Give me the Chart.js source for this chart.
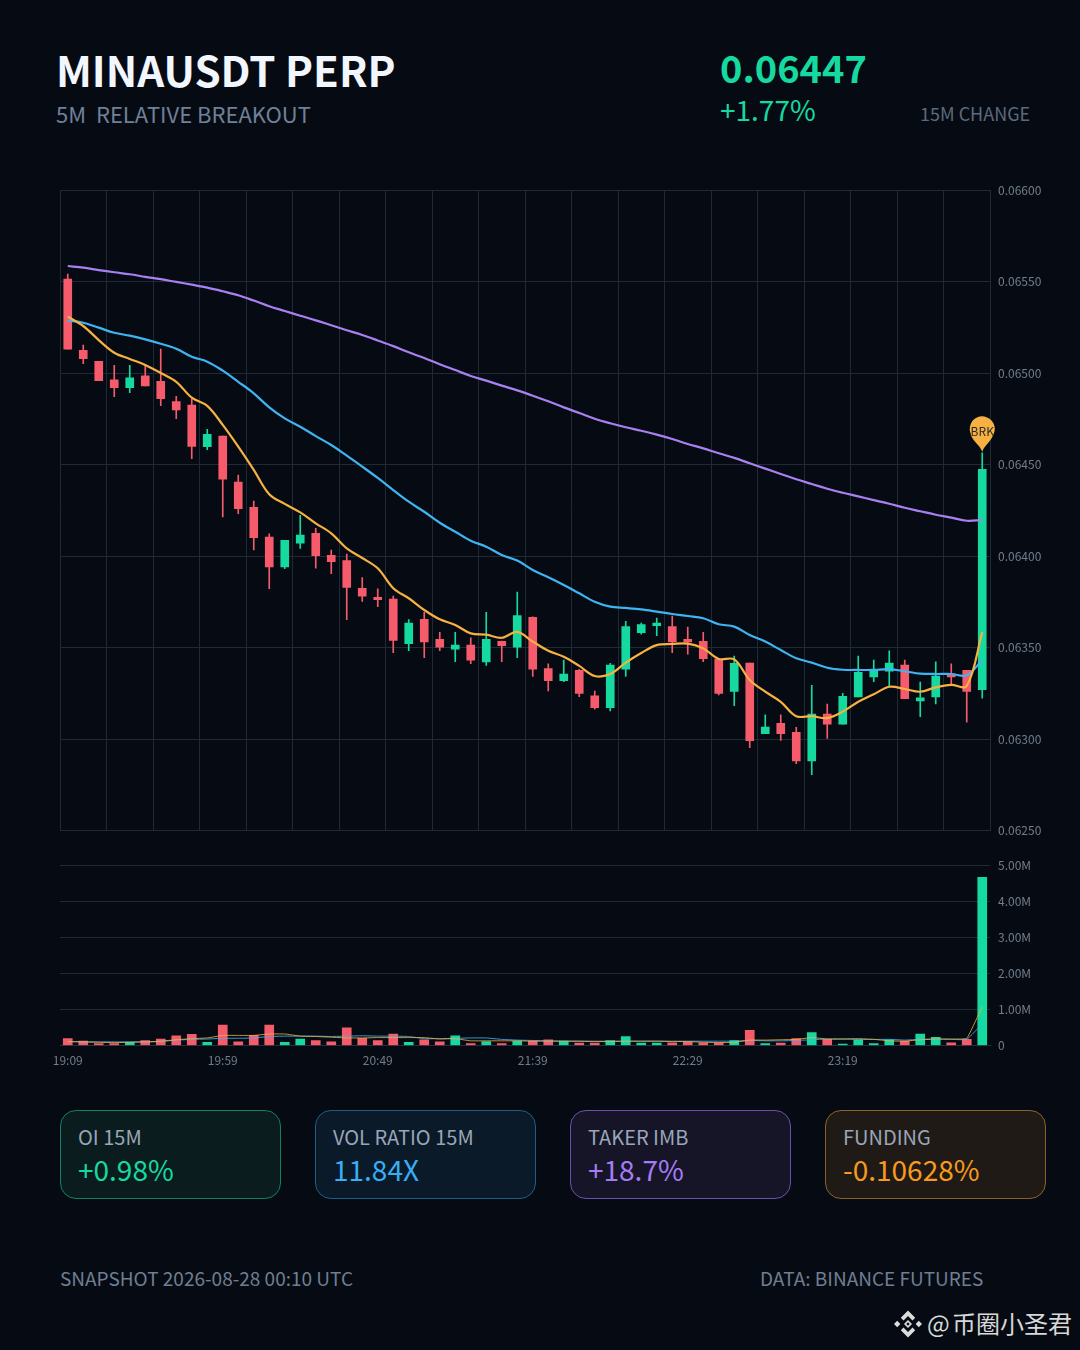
<!DOCTYPE html>
<html>
<head>
<meta charset="utf-8">
<script src="https://cdn.jsdelivr.net/npm/chart.js@4"></script>
<style>
*{box-sizing:border-box;margin:0;padding:0}
html,body{width:1080px;height:1350px;background:#060b13;overflow:hidden;font-family:"Noto Sans CJK SC","Noto Sans",sans-serif}
.t{position:absolute;white-space:pre;line-height:1}
canvas{position:absolute;left:0}
.card{position:absolute;top:1110px;width:221px;height:89px;border-radius:16px;border:1px solid}
.card .l{position:absolute;left:17px;top:16px;font-size:20px;line-height:1;color:#9aa5b8;white-space:pre}
.card .v{position:absolute;left:17px;top:44px;font-size:28px;line-height:1;white-space:pre}
</style>
</head>
<body>
<div class="t" style="left:56px;top:48px;font-size:42px;font-weight:700;color:#f2f6fd">MINAUSDT PERP</div>
<div class="t" style="left:56px;top:102px;font-size:22px;color:#6f8098">5M  RELATIVE BREAKOUT</div>
<div class="t" style="left:720px;top:48px;font-size:38px;font-weight:700;color:#16d9a0">0.06447</div>
<div class="t" style="left:720px;top:95px;font-size:28px;color:#16d9a0">+1.77%</div>
<div class="t" style="left:920px;top:104px;font-size:18px;color:#5c6a7c">15M CHANGE</div>

<canvas id="price" style="top:150px;width:1080px;height:700px"></canvas>
<canvas id="vol" style="top:850px;width:1080px;height:230px"></canvas>

<div class="card" style="left:60px;background:#0a1c1d;border-color:#11805f"><div class="l">OI 15M</div><div class="v" style="color:#16d9a0">+0.98%</div></div>
<div class="card" style="left:315px;background:#0a1a28;border-color:#1c5f82"><div class="l">VOL RATIO 15M</div><div class="v" style="color:#38aef5">11.84X</div></div>
<div class="card" style="left:570px;background:#161528;border-color:#6a4fae"><div class="l">TAKER IMB</div><div class="v" style="color:#a57cf5">+18.7%</div></div>
<div class="card" style="left:825px;background:#1f1a16;border-color:#8a6426"><div class="l">FUNDING</div><div class="v" style="color:#f79a1e">-0.10628%</div></div>

<div class="t" style="left:60px;top:1268px;font-size:19px;color:#6f7e92">SNAPSHOT 2026-08-28 00:10 UTC</div>
<div class="t" style="left:760px;top:1268px;font-size:19px;color:#6f7e92">DATA: BINANCE FUTURES</div>

<svg style="position:absolute;left:893px;top:1309px" width="30" height="30" viewBox="0 0 30 30">
  <g fill="#dcdcdc">
    <path d="M1 15l3.200-3.200 3.200 3.200-3.200 3.200z"/>
    <path d="M22.600 15l3.200-3.200 3.200 3.200-3.200 3.200z"/>
    <path d="M15 1.500l7.200 7.200-2.700 2.700-4.500-4.500-4.500 4.500-2.700-2.700z"/>
    <path d="M15 28.500l7.200-7.200-2.700-2.700-4.500 4.500-4.500-4.500-2.700 2.700z"/>
    <path d="M15 11l4 4-4 4-4-4z M15 13.300l-1.700 1.700 1.700 1.700 1.700-1.700z" fill-rule="evenodd"/>
  </g>
</svg>
<div class="t" style="left:927px;top:1311px;font-size:24px;word-spacing:-3px;color:#d8d8d8">@ 币圈小圣君</div>

<script>
const categories = ["19:09","19:14","19:19","19:24","19:29","19:34","19:39","19:44","19:49","19:54",
"19:59","20:04","20:09","20:14","20:19","20:24","20:29","20:34","20:39","20:44",
"20:49","20:54","20:59","21:04","21:09","21:14","21:19","21:24","21:29","21:34",
"21:39","21:44","21:49","21:54","21:59","22:04","22:09","22:14","22:19","22:24",
"22:29","22:34","22:39","22:44","22:49","22:54","22:59","23:04","23:09","23:14",
"23:19","23:24","23:29","23:34","23:39","23:44","23:49","23:54","23:59","00:04"];
const xTickLabels = ["19:09","19:59","20:49","21:39","22:29","23:19"];
const volTickLabels = ["0","1.00M","2.00M","3.00M","4.00M","5.00M"];

const opens = [.065516,.065126,.065066,.064965,.064922,.064986,.064957,.064845,.064827,.064599,
.064657,.064406,.064268,.064105,.063941,.064071,.064125,.064005,.063976,.063825,
.063775,.063766,.063522,.063655,.063546,.063491,.063514,.063422,.063535,.063502,
.063666,.063385,.063319,.063376,.063236,.063172,.063382,.063582,.063620,.063615,
.063546,.063535,.063436,.063261,.063416,.063029,.063086,.063037,.062880,.063136,
.063081,.063230,.063340,.063372,.063405,.063208,.063230,.063356,.063376,.063270];
const closes = [.065132,.065080,.064960,.064922,.064975,.064931,.064861,.064800,.064601,.064667,
.064421,.064260,.064101,.063941,.064087,.064116,.064003,.063970,.063830,.063782,
.063762,.063540,.063635,.063531,.063502,.063514,.063431,.063546,.063511,.063675,
.063382,.063319,.063356,.063250,.063172,.063405,.063615,.063626,.063635,.063531,
.063531,.063440,.063250,.063414,.062991,.063066,.063029,.062880,.063136,.063081,
.063234,.063365,.063372,.063416,.063221,.063226,.063345,.063340,.063261,.064475];
const highs = [.065543,.065155,.065066,.065044,.065044,.065046,.065133,.064875,.064858,.064694,
.064657,.064444,.064302,.064123,.064087,.064224,.064153,.064034,.064012,.063883,
.063822,.063782,.063653,.063693,.063584,.063584,.063553,.063693,.063536,.063804,
.063668,.063412,.063432,.063382,.063263,.063414,.063644,.063635,.063662,.063673,
.063613,.063584,.063440,.063454,.063416,.063132,.063132,.063064,.063294,.063192,
.063250,.063454,.063432,.063482,.063432,.063312,.063422,.063412,.063376,.064565];
const lows = [.065132,.065053,.064960,.064872,.064894,.064931,.064823,.064752,.064533,.064583,
.064215,.064233,.064034,.063822,.063932,.064043,.063934,.063904,.063653,.063753,
.063724,.063472,.063483,.063445,.063483,.063423,.063412,.063403,.063423,.063445,
.063343,.063263,.063314,.063232,.063163,.063154,.063343,.063573,.063565,.063472,
.063464,.063423,.063241,.063183,.062953,.063029,.062993,.062865,.062805,.063004,
.063081,.063230,.063314,.063290,.063221,.063122,.063192,.063301,.063093,.063223];
const maFast = [.065310,.065259,.065182,.065113,.065079,.065046,.065002,.064954,.064867,.064822,
.064718,.064599,.064472,.064339,.064286,.064240,.064180,.064125,.064043,.063990,
.063934,.063825,.063770,.063706,.063655,.063624,.063578,.063571,.063554,.063586,
.063533,.063483,.063450,.063400,.063345,.063356,.063418,.063471,.063514,.063520,
.063522,.063496,.063438,.063436,.063323,.063259,.063204,.063125,.063125,.063115,
.063150,.063204,.063245,.063286,.063274,.063259,.063283,.063296,.063290,.063584];
const maMid = [.065290,.065277,.065250,.065222,.065206,.065186,.065162,.065135,.065091,.065064,
.065015,.064954,.064891,.064814,.064754,.064708,.064657,.064608,.064550,.064490,
.064428,.064362,.064298,.064243,.064183,.064134,.064085,.064052,.064007,.063976,
.063925,.063885,.063843,.063797,.063751,.063724,.063717,.063709,.063697,.063684,
.063673,.063661,.063628,.063615,.063569,.063533,.063487,.063442,.063418,.063390,
.063379,.063378,.063378,.063382,.063371,.063358,.063356,.063356,.063349,.063432];
const maSlow = [.065587,.065578,.065565,.065553,.065542,.065528,.065515,.065500,.065485,.065469,
.065449,.065427,.065398,.065367,.065341,.065315,.065290,.065263,.065236,.065210,
.065180,.065149,.065115,.065084,.065050,.065018,.064986,.064960,.064933,.064907,
.064878,.064847,.064814,.064783,.064752,.064727,.064705,.064686,.064665,.064641,
.064614,.064590,.064563,.064538,.064508,.064479,.064450,.064421,.064395,.064369,
.064347,.064327,.064307,.064287,.064265,.064246,.064227,.064211,.064194,.064198];
const volumes = [.19,.12,.055,.055,.09,.14,.18,.27,.31,.085,
.57,.10,.28,.57,.09,.18,.14,.10,.49,.20,
.14,.32,.085,.16,.10,.27,.05,.11,.05,.12,
.12,.16,.12,.065,.065,.14,.25,.065,.065,.075,
.10,.075,.075,.14,.42,.05,.065,.19,.36,.17,
.04,.16,.05,.16,.12,.32,.23,.075,.17,4.67];
const volFast = [.11,.10,.09,.08,.09,.10,.12,.16,.19,.21,
.28,.28,.28,.32,.32,.26,.25,.23,.21,.21,
.22,.22,.22,.22,.18,.19,.13,.13,.13,.13,
.12,.12,.12,.12,.11,.11,.12,.12,.12,.11,
.11,.09,.08,.09,.15,.15,.16,.17,.22,.18,
.18,.19,.17,.13,.12,.16,.18,.18,.20,1.08];
const volSlow = [.11,.10,.10,.10,.10,.10,.11,.15,.17,.18,
.20,.20,.21,.25,.26,.26,.26,.25,.26,.27,
.26,.26,.25,.19,.19,.20,.21,.21,.17,.15,
.14,.13,.12,.12,.12,.12,.12,.12,.12,.12,
.12,.12,.12,.12,.14,.13,.13,.14,.16,.18,
.18,.17,.17,.17,.15,.17,.18,.17,.17,.60];

const GREEN="#16d9a0", RED="#f65b6b", GRID="#1f2a37", TICK="#727d8b";
const ORANGE="#f6b141", BLUE="#3fb4f2", PURPLE="#a980f2";
const FONT='"Noto Sans CJK SC","Noto Sans",sans-serif';
const candleColors = closes.map((c,i)=> c>=opens[i] ? GREEN : RED);
Chart.defaults.animation=false;
Chart.defaults.font.family=FONT;

function lineDs(data,color,width,tension){
  return {type:"line",data,borderColor:color,borderWidth:width,pointRadius:0,tension,order:0,fill:false,spanGaps:true};
}

const pinPlugin = {
  id:"pin",
  afterDatasetsDraw(chart){
    const {ctx,scales:{x,y}}=chart;
    const last=categories.length-1;
    const cx=x.getPixelForValue(last), tip=y.getPixelForValue(highs[last])-1;
    const r=12.5, cy=tip-23;
    ctx.save();
    ctx.fillStyle=ORANGE;
    ctx.beginPath();
    ctx.moveTo(cx,tip);
    ctx.bezierCurveTo(cx-1.5,tip-6,cx-8,tip-9,cx-r+1,cy+6);
    ctx.arc(cx,cy,r,Math.PI*0.86,Math.PI*0.14);
    ctx.bezierCurveTo(cx+8,tip-9,cx+1.5,tip-6,cx,tip);
    ctx.closePath();
    ctx.fill();
    ctx.fillStyle="#2a2a2e";
    ctx.font="12px "+FONT;
    ctx.textAlign="center";
    ctx.textBaseline="middle";
    ctx.fillText("BRK",cx,cy+3);
    ctx.restore();
  }
};

new Chart(document.getElementById("price"),{
  type:"bar",
  data:{labels:categories,datasets:[
    lineDs(maFast,ORANGE,2.2,0.35),
    lineDs(maMid,BLUE,2.2,0.35),
    lineDs(maSlow,PURPLE,2.2,0.35),
    {type:"bar",data:closes.map((c,i)=>[opens[i],c]),backgroundColor:candleColors,barThickness:8,grouped:false,order:2},
    {type:"bar",data:highs.map((h,i)=>[lows[i],h]),backgroundColor:candleColors,barThickness:1,grouped:false,order:3}
  ]},
  options:{
    responsive:false,maintainAspectRatio:false,
    layout:{padding:{left:60,right:0,top:40.5,bottom:19.5}},
    plugins:{legend:{display:false},tooltip:{enabled:false},title:{display:false}},
    scales:{
      x:{offset:true,ticks:{display:false,autoSkip:false},
         grid:{offset:true,drawTicks:false,lineWidth:1,color:c=>(c.index===undefined||c.index%3===0)?GRID:"rgba(0,0,0,0)"},
         border:{display:true,color:GRID},
         afterFit(s){s.height=0}},
      y:{position:"right",min:0.0625,max:0.066,
         ticks:{stepSize:0.0005,padding:8,color:TICK,font:{size:12},callback:v=>v.toFixed(5)},
         grid:{color:GRID,drawTicks:false,lineWidth:1},
         border:{display:true,color:GRID},
         afterFit(s){s.width=90}}
    }
  },
  plugins:[pinPlugin]
});

new Chart(document.getElementById("vol"),{
  type:"bar",
  data:{labels:categories,datasets:[
    lineDs(volFast,"rgba(246,177,65,0.8)",1,0.1),
    lineDs(volSlow,"rgba(63,180,242,0.85)",1,0.1),
    {type:"bar",data:volumes,backgroundColor:candleColors,barThickness:9,order:2}
  ]},
  options:{
    responsive:false,maintainAspectRatio:false,
    layout:{padding:{left:60,right:0,top:15.5,bottom:0}},
    plugins:{legend:{display:false},tooltip:{enabled:false},title:{display:false}},
    scales:{
      x:{offset:true,
         ticks:{autoSkip:false,maxRotation:0,minRotation:0,padding:8,color:TICK,font:{size:12},
                callback(v,i){const l=categories[i];return xTickLabels.includes(l)?l:""}},
         grid:{display:false,drawTicks:false},
         border:{display:true,color:"#26303d"},
         afterFit(s){s.height=34.5}},
      y:{position:"right",min:0,max:5,
         ticks:{stepSize:1,padding:8,color:TICK,font:{size:12},callback:v=>volTickLabels[v]},
         grid:{color:GRID,drawTicks:false,lineWidth:1},
         border:{display:false},
         afterFit(s){s.width=90}}
    }
  }
});
</script>
</body>
</html>
